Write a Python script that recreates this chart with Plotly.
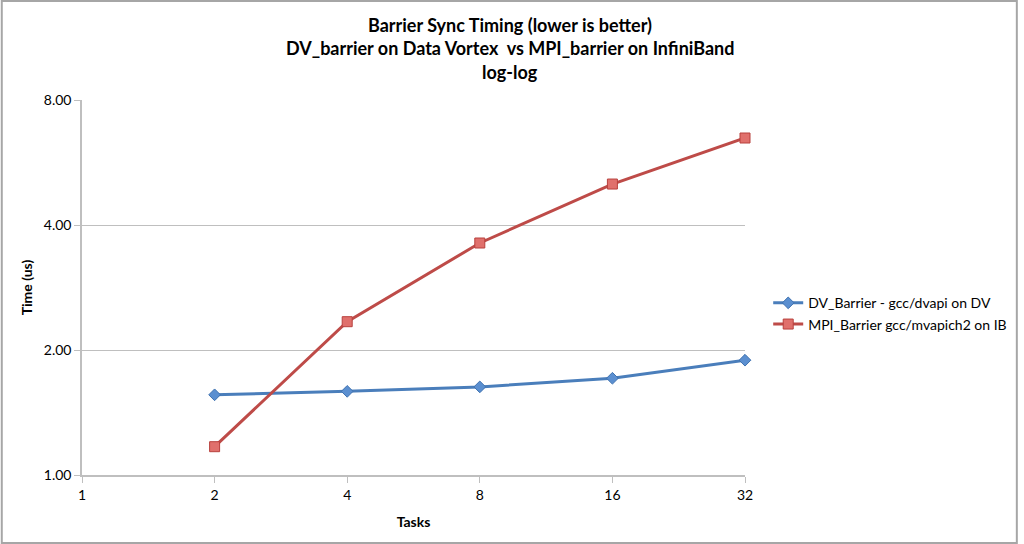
import plotly.graph_objects as go

# Tasks (x) and barrier times in microseconds (y)
tasks = [2, 4, 8, 16, 32]
dv_barrier = [1.56, 1.59, 1.63, 1.71, 1.89]
mpi_barrier = [1.17, 2.34, 3.62, 5.02, 6.48]

x_ticks = [1, 2, 4, 8, 16, 32]
y_ticks = [1, 2, 4, 8]
y_labels = ["1.00", "2.00", "4.00", "8.00"]

title_lines = [
    "Barrier Sync Timing (lower is better)",
    "DV_barrier on Data Vortex  vs MPI_barrier on InfiniBand",
    "log-log",
]

FONT = "Lato, 'Open Sans', sans-serif"

fig = go.Figure()

fig.add_trace(go.Scatter(
    x=tasks, y=dv_barrier,
    mode="lines+markers",
    name="DV_Barrier - gcc/dvapi on DV",
    line=dict(color="#4a7ebb", width=3),
    marker=dict(symbol="diamond", size=9, color="#5b8fd0",
                line=dict(color="#3f72b0", width=1)),
    cliponaxis=False,
))

fig.add_trace(go.Scatter(
    x=tasks, y=mpi_barrier,
    mode="lines+markers",
    name="MPI_Barrier gcc/mvapich2 on IB",
    line=dict(color="#be4b48", width=3),
    marker=dict(symbol="square", size=10, color="#e0706c",
                line=dict(color="#b8403d", width=1)),
    cliponaxis=False,
))

# title lines placed one by one, centred on the whole picture
for line, ypos in zip(title_lines, [1.200, 1.139, 1.075]):
    fig.add_annotation(
        text="<b>%s</b>" % line,
        x=0.645, xref="paper", xanchor="center",
        y=ypos, yref="paper", yanchor="middle",
        showarrow=False,
        font=dict(size=18, family=FONT, color="black"),
    )

fig.update_layout(
    width=1024, height=544,
    paper_bgcolor="white",
    plot_bgcolor="white",
    font=dict(family=FONT, size=13, color="black"),
    margin=dict(l=82, r=275, t=100, b=69),
    legend=dict(
        x=1.035, xanchor="left",
        y=0.43, yanchor="middle",
        font=dict(size=14, family=FONT),
        bgcolor="rgba(0,0,0,0)",
        tracegroupgap=6,
    ),
    shapes=[dict(
        type="rect", xref="paper", yref="paper",
        x0=-0.121, x1=1.410, y0=-0.181, y1=1.264,
        line=dict(color="#a6a6a6", width=2),
    )],
)

fig.update_xaxes(
    type="log",
    range=[0, 1.50515],
    tickvals=x_ticks,
    ticktext=[str(t) for t in x_ticks],
    showgrid=False,
    showline=True, linecolor="#bfbfbf", linewidth=1.5,
    ticks="outside", tickcolor="#bfbfbf", ticklen=6,
    tickfont=dict(size=14),
    title=dict(text="<b>Tasks</b>", font=dict(size=14), standoff=16),
    zeroline=False,
)

fig.update_yaxes(
    type="log",
    range=[0, 0.90309],
    tickvals=y_ticks,
    ticktext=y_labels,
    showgrid=True, gridcolor="#bfbfbf", gridwidth=1,
    showline=True, linecolor="#bfbfbf", linewidth=1.5,
    ticks="outside", tickcolor="#bfbfbf", ticklen=6,
    tickfont=dict(size=14),
    title=dict(text="<b>Time (us)</b>", font=dict(size=14), standoff=8),
    zeroline=False,
)

fig.write_html(
    "out.html",
    config={"displayModeBar": False},
    post_script="document.body.style.margin='0';document.body.style.overflow='hidden';",
)
